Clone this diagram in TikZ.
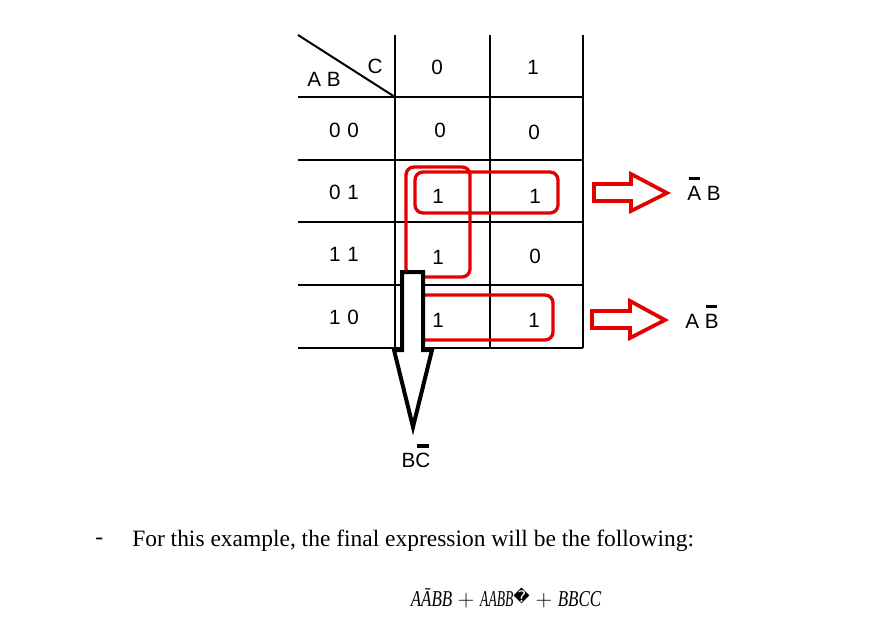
\documentclass[tikz,border=0pt]{standalone}
\usepackage{fontspec}
\setmainfont{Liberation Serif}
\newfontfamily\arialf{Liberation Sans}
\newfontfamily\dejav{DejaVu Sans}
\usepackage{graphicx}
\newcommand{\thickbar}[1]{\ooalign{#1\cr\hidewidth\rule[0.95em]{0.55em}{2.4pt}\hidewidth\cr}}
\begin{document}
\begin{tikzpicture}[x=0.75pt,y=-0.75pt,
  grid/.style={line width=2pt,black},
  lbl/.style={font=\arialf\fontsize{15.5}{17}\selectfont,inner sep=0pt},
  loop/.style={draw=red!90!black,line width=2.5pt,rounded corners=6pt},
  redarrow/.style={draw=red!90!black,line width=2.8pt,fill=white},
  blackarrow/.style={draw=black,line width=3pt,fill=white}]
\useasboundingbox (0,0) rectangle (895,635);
% grid
\draw[grid] (395,35) -- (395,348);
\draw[grid] (490,35) -- (490,348);
\draw[grid] (583,35) -- (583,348);
\foreach \y in {97,160,222,285,348} \draw[grid] (298,\y) -- (583,\y);
\draw[line width=1.5pt] (298,35) -- (395,97);
\node[lbl] (hc) at (375,66) {C};
\node[lbl] (hab) at (324,79) {A B};
\node[lbl] (c0) at (437,67) {0};
\node[lbl] (c1) at (533,67) {1};
\node[lbl] (r00) at (344,130) {0\,\,0};
\node[lbl] (r01) at (344,192) {0\,\,1};
\node[lbl] (r11) at (344,254) {1\,\,1};
\node[lbl] (r10) at (344,317) {1\,\,0};
\node[lbl] (v00a) at (440,130) {0};
\node[lbl] (v00b) at (534,132) {0};
\node[lbl] (v01a) at (438,196) {1};
\node[lbl] (v01b) at (535,196) {1};
\node[lbl] (v11a) at (438,257) {1};
\node[lbl] (v11b) at (535,256) {0};
\node[lbl] (v10a) at (438,320) {1};
\node[lbl] (v10b) at (534,320) {1};
% red loops
\draw[loop] (415,172) rectangle (558,213);
\draw[loop] (406,167) rectangle (470,277);
\draw[loop] (418,295) rectangle (553,340);
% red arrows
\draw[redarrow] (594,184) -- (631,184) -- (631,174) -- (667,193) -- (631,211) -- (631,201) -- (594,201) -- cycle;
\draw[redarrow] (592,311) -- (630,311) -- (630,301) -- (665,320) -- (630,338) -- (630,328) -- (592,328) -- cycle;
\node[lbl] (ab1) at (704,193) {\thickbar{A} B};
\node[lbl] (ab2) at (702,321) {A \thickbar{B}};
% black arrow
\draw[blackarrow] (402,272) -- (423,272) -- (423,350) -- (432,350) -- (413,427) -- (394,350) -- (402,350) -- cycle;
\node[lbl] (bc) at (416,460) {B\thickbar{C}};
% text
\node[inner sep=0pt,anchor=west,font=\fontsize{17.6}{20}\selectfont] (dash) at (95,541) {-};
\node[inner sep=0pt,anchor=west,font=\fontsize{17.6}{20}\selectfont] (txt) at (132,541) {For this example, the final expression will be the following:};
\node[inner sep=0pt,font=\fontsize{17}{20}\selectfont] (expr) at (506,598) {\scalebox{0.75}[1]{\itshape AĀBB} $+$ \scalebox{0.6}[1]{\itshape AABB}\raisebox{3pt}{\dejav\fontsize{12}{12}\selectfont\char"FFFD}\ $+$ \scalebox{0.75}[1]{\itshape BBCC}};
\end{tikzpicture}
\end{document}
